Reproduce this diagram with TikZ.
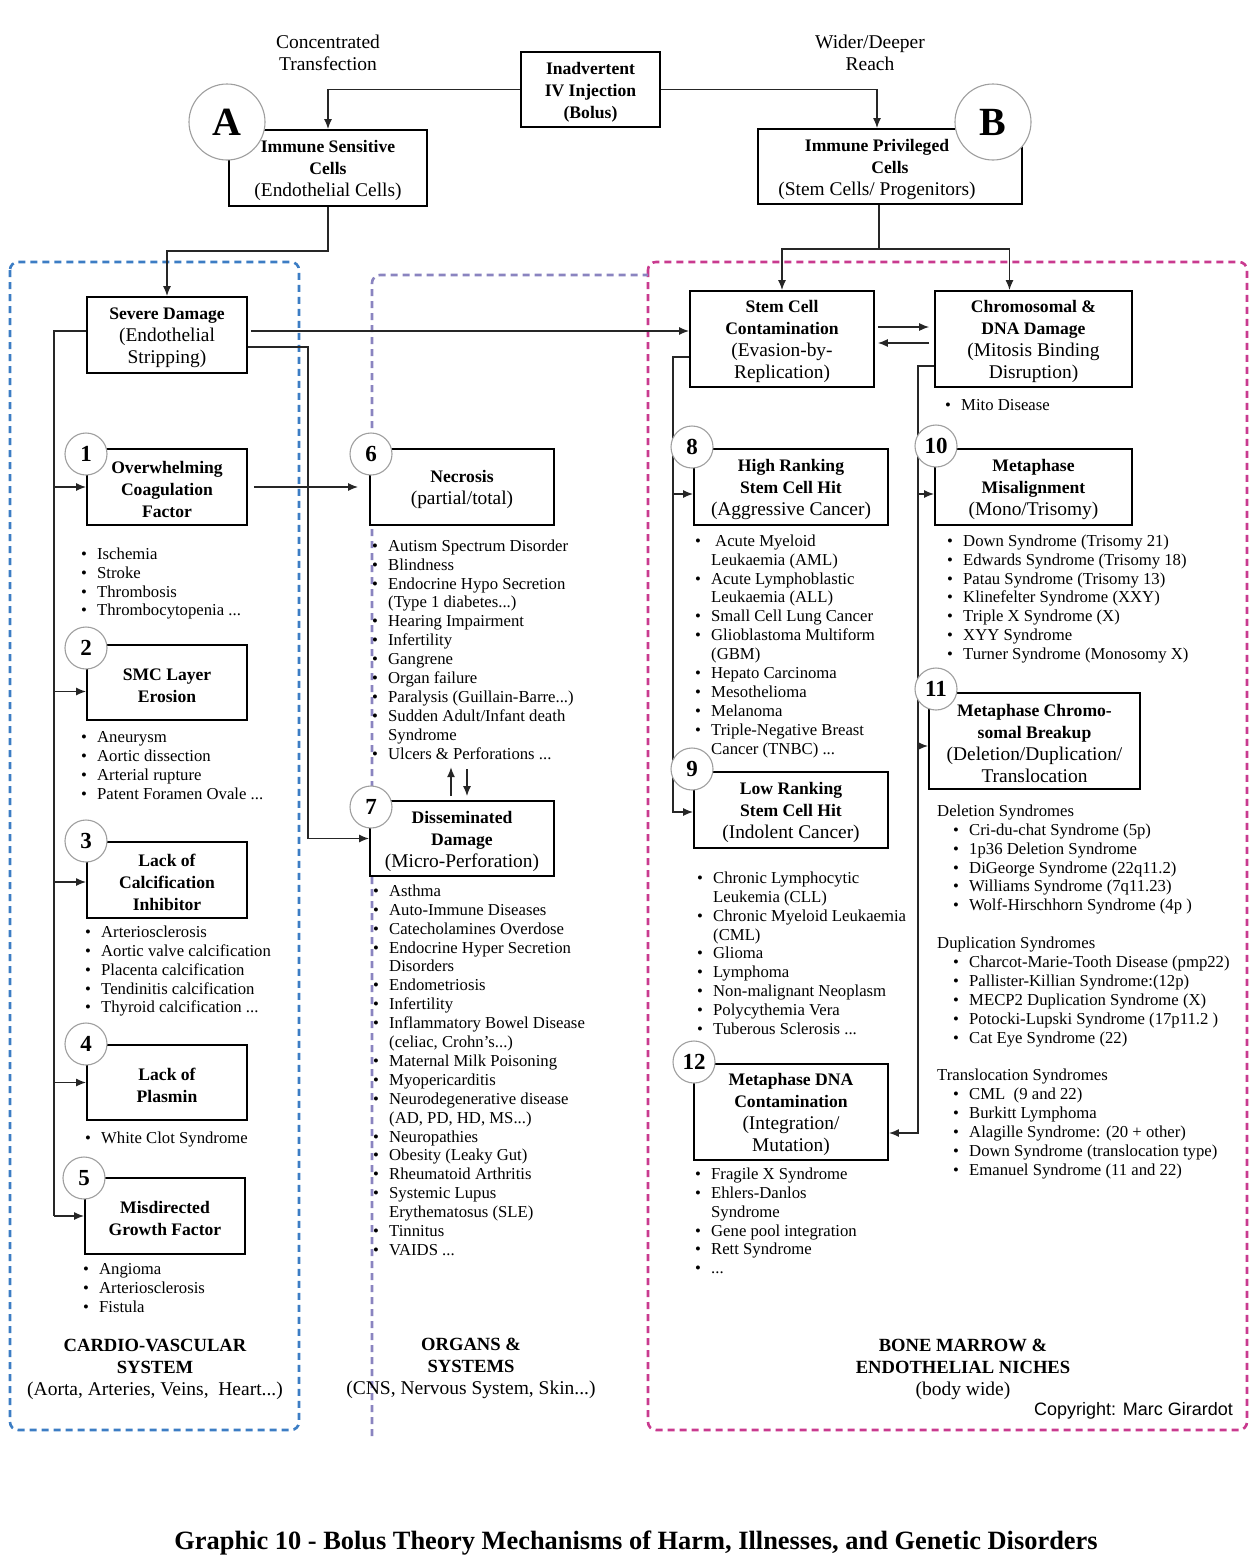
\documentclass[tikz,border=0pt]{standalone}
\usepackage{fontspec}
\setmainfont{Liberation Serif}
\newfontfamily\cpyfont{Liberation Sans}
\usetikzlibrary{arrows.meta}
\definecolor{cvblue}{HTML}{3C7DC4}
\definecolor{orgpurple}{HTML}{8A84C0}
\definecolor{bmpink}{HTML}{C93A8F}
\newcommand{\bl}{\makebox[16pt][l]{\textbullet}}
\newcommand{\hang}{\hspace*{16pt}}
\newcommand{\hd}[2][17.6]{{\fontsize{#1}{22}\selectfont\bfseries\rule{0pt}{17.5pt}#2}}

\begin{document}
\begin{tikzpicture}[x=1pt, y=-1pt]
\tikzstyle{box} = [draw, fill=white, line width=1.8pt, align=center, inner sep=0pt, font=\fontsize{19.4}{22}\selectfont]
\tikzstyle{num} = [circle, draw=gray!75, fill=white, line width=1.1pt, minimum size=42pt, inner sep=0pt, font=\fontsize{23}{23}\selectfont\bfseries]
\tikzstyle{big} = [num, minimum size=76pt, font=\fontsize{40}{40}\selectfont\bfseries]
\tikzstyle{lst} = [anchor=north west, inner sep=0pt, yshift=-1.5pt, align=left, font=\fontsize{16.7}{18.9}\selectfont]
\tikzstyle{lbl} = [align=center, inner sep=0pt, font=\fontsize{19.5}{22}\selectfont]
\tikzstyle{conn} = [line width=1.5pt, black!85, -{Latex[length=10pt,width=8pt]}]
\tikzstyle{wire} = [line width=1.5pt, black!85]
\tikzstyle{area} = [line width=2.6pt, dash pattern=on 7pt off 5pt, rounded corners=8pt]

\useasboundingbox (0,0) rectangle (1258,1558);

% system frames
\draw[area, cvblue] (10,262) rectangle (299,1430);
\draw[area, bmpink] (648,262) rectangle (1247,1430);
\draw[area, orgpurple] (372,1436) -- (372,275) -- (648,275);

% top
\node[lbl] (conc) at (328,53) {Concentrated\\Transfection};
\node[lbl] (wide) at (870,53) {Wider/Deeper\\Reach};
\node[box, minimum width=139pt, minimum height=75pt] (inj) at (590.5,89.5) {\hd{Inadvertent}\\\hd{IV Injection}\\\hd{(Bolus)}};
\node[box, minimum width=198pt, minimum height=76pt] (isc) at (328,168) {\hd{Immune Sensitive}\\\hd{Cells}\\(Endothelial Cells)};
\node[box, minimum width=264pt, minimum height=75pt] (ipc) at (890,166.5) {\hd{Immune Privileged}\hspace*{26pt}\\\hd{Cells}\hspace*{26pt}\\(Stem Cells/ Progenitors)\hspace*{26pt}};

% cardio-vascular column
\node[box, minimum width=160pt, minimum height=76pt] (sev) at (167,335) {\hd{Severe Damage}\\(Endothelial\\Stripping)};
\node[box, minimum width=160pt, minimum height=76pt] (m1) at (167,487) {\hd{Overwhelming}\\\hd{Coagulation}\\\hd{Factor}};
\node[lst] (l1) at (81,546) {\bl Ischemia\\\bl Stroke\\\bl Thrombosis\\\bl Thrombocytopenia ...};
\node[box, minimum width=160pt, minimum height=75pt] (m2) at (167,682.5) {\hd{SMC Layer}\\\hd{Erosion}};
\node[lst] (l2) at (81,730) {\bl Aneurysm\\\bl Aortic dissection\\\bl Arterial rupture\\\bl Patent Foramen Ovale ...};
\node[box, minimum width=160pt, minimum height=76pt] (m3) at (167,880) {\hd{Lack of}\\\hd{Calcification}\\\hd{Inhibitor}};
\node[lst] (l3) at (85,924) {\bl Arteriosclerosis\\\bl Aortic valve calcification\\\bl Placenta calcification\\\bl Tendinitis calcification\\\bl Thyroid calcification ...};
\node[box, minimum width=160pt, minimum height=75pt] (m4) at (167,1082.5) {\hd{Lack of}\\\hd{Plasmin}};
\node[lst] (l4) at (85,1130) {\bl White Clot Syndrome};
\node[box, minimum width=160pt, minimum height=76pt] (m5) at (165,1216) {\hd{Misdirected}\\\hd{Growth Factor}};
\node[lst] (l5) at (83,1262) {\bl Angioma\\\bl Arteriosclerosis\\\bl Fistula};
\node[lbl] (cvs) at (155,1367) {\hd[18.6]{CARDIO-VASCULAR}\\\hd[18.6]{SYSTEM}\\(Aorta, Arteries, Veins,\ \ Heart...)};

% organs column
\node[box, minimum width=184pt, minimum height=76pt] (m6) at (462,487) {\hd{Necrosis}\\(partial/total)};
\node[lst] (l6) at (372,538) {\bl Autism Spectrum Disorder\\\bl Blindness\\\bl Endocrine Hypo Secretion\\\hang(Type 1 diabetes...)\\\bl Hearing Impairment\\\bl Infertility\\\bl Gangrene\\\bl Organ failure\\\bl Paralysis (Guillain-Barre...)\\\bl Sudden Adult/Infant death\\\hang Syndrome\\\bl Ulcers \& Perforations ...};
\node[box, minimum width=184pt, minimum height=75pt] (m7) at (462,838.5) {\hd{Disseminated}\\\hd{Damage}\\(Micro-Perforation)};
\node[lst] (l7) at (373,883) {\bl Asthma\\\bl Auto-Immune Diseases\\\bl Catecholamines Overdose\\\bl Endocrine Hyper Secretion\\\hang Disorders\\\bl Endometriosis\\\bl Infertility\\\bl Inflammatory Bowel Disease\\\hang(celiac, Crohn's...)\\\bl Maternal Milk Poisoning\\\bl Myopericarditis\\\bl Neurodegenerative disease\\\hang(AD, PD, HD, MS...)\\\bl Neuropathies\\\bl Obesity (Leaky Gut)\\\bl Rheumatoid Arthritis\\\bl Systemic Lupus\\\hang Erythematosus (SLE)\\\bl Tinnitus\\\bl VAIDS ...};
\node[lbl] (org) at (471,1366) {\hd[18.6]{ORGANS \&}\\\hd[18.6]{SYSTEMS}\\(CNS, Nervous System, Skin...)};

% bone marrow column
\node[box, minimum width=184pt, minimum height=96pt] (stem) at (782,339) {\hd{Stem Cell}\\\hd{Contamination}\\(Evasion-by-\\Replication)};
\node[box, minimum width=197pt, minimum height=96pt] (chr) at (1033.5,339) {\hd{Chromosomal \&}\\\hd{DNA Damage}\\(Mitosis Binding\\Disruption)};
\node[lst] (mito) at (945,398) {\bl Mito Disease};
\node[box, minimum width=194pt, minimum height=76pt] (m8) at (791,487) {\hd{High Ranking}\\\hd{Stem Cell Hit}\\(Aggressive Cancer)};
\node[lst] (l8) at (695,533) {\bl\hspace{4pt}Acute Myeloid\\\hang Leukaemia (AML)\\\bl Acute Lymphoblastic\\\hang Leukaemia (ALL)\\\bl Small Cell Lung Cancer\\\bl Glioblastoma Multiform\\\hang(GBM)\\\bl Hepato Carcinoma\\\bl Mesothelioma\\\bl Melanoma\\\bl Triple-Negative Breast\\\hang Cancer (TNBC) ...};
\node[box, minimum width=194pt, minimum height=76pt] (m9) at (791,810) {\hd{Low Ranking}\\\hd{Stem Cell Hit}\\(Indolent Cancer)};
\node[lst] (l9) at (697,870) {\bl Chronic Lymphocytic\\\hang Leukemia (CLL)\\\bl Chronic Myeloid Leukaemia\\\hang(CML)\\\bl Glioma\\\bl Lymphoma\\\bl Non-malignant Neoplasm\\\bl Polycythemia Vera\\\bl Tuberous Sclerosis ...};
\node[box, minimum width=194pt, minimum height=96pt] (m12) at (791,1112) {\hd{Metaphase DNA}\\\hd{Contamination}\\(Integration/\\Mutation)};
\node[lst] (l12) at (695,1166) {\bl Fragile X Syndrome\\\bl Ehlers-Danlos\\\hang Syndrome\\\bl Gene pool integration\\\bl Rett Syndrome\\\bl ...};
\node[box, minimum width=197pt, minimum height=76pt] (m10) at (1033.5,487) {\hd{Metaphase}\\\hd{Misalignment}\\(Mono/Trisomy)};
\node[lst] (l10) at (947,533) {\bl Down Syndrome (Trisomy 21)\\\bl Edwards Syndrome (Trisomy 18)\\\bl Patau Syndrome (Trisomy 13)\\\bl Klinefelter Syndrome (XXY)\\\bl Triple X Syndrome (X)\\\bl XYY Syndrome\\\bl Turner Syndrome (Monosomy X)};
\node[box, minimum width=211pt, minimum height=96pt] (m11) at (1034.5,741) {\hd{Metaphase Chromo-}\\\hd{somal Breakup}\\(Deletion/Duplication/\\Translocation};
\node[lst] (l11) at (937,803) {Deletion Syndromes\\
\hang\bl Cri-du-chat Syndrome (5p)\\\hang\bl 1p36 Deletion Syndrome\\\hang\bl DiGeorge Syndrome (22q11.2)\\\hang\bl Williams Syndrome (7q11.23)\\\hang\bl Wolf-Hirschhorn Syndrome (4p )\\[18.9pt]
Duplication Syndromes\\
\hang\bl Charcot-Marie-Tooth Disease (pmp22)\\\hang\bl Pallister-Killian Syndrome:(12p)\\\hang\bl MECP2 Duplication Syndrome (X)\\\hang\bl Potocki-Lupski Syndrome (17p11.2 )\\\hang\bl Cat Eye Syndrome (22)\\[18.9pt]
Translocation Syndromes\\
\hang\bl CML\ \ (9 and 22)\\\hang\bl Burkitt Lymphoma\\\hang\bl Alagille Syndrome: (20 + other)\\\hang\bl Down Syndrome (translocation type)\\\hang\bl Emanuel Syndrome (11 and 22)};
\node[lbl] (bmn) at (963,1367) {\hd[18.6]{BONE MARROW \&}\\\hd[18.6]{ENDOTHELIAL NICHES}\\(body wide)};
\node[anchor=east, inner sep=0pt, font=\cpyfont\fontsize{18}{18}\selectfont] (cpy) at (1233,1411) {Copyright: Marc Girardot};

\node[inner sep=0pt, font=\fontsize{26.4}{30}\selectfont\bfseries] (ttl) at (636,1543) {Graphic 10 - Bolus Theory Mechanisms of Harm, Illnesses, and Genetic Disorders};

% connectors
\draw[conn] (inj.west) -| (isc.north);
\draw[conn] (inj.east) -| ([xshift=-13pt]ipc.north);
\draw[conn] (isc.south) -- ++(0,44) -| (sev.north);
\draw[conn] ([xshift=-11pt]ipc.south) -- ++(0,44) -| (stem.north);
\draw[conn] ([xshift=-11pt]ipc.south) -- ++(0,44) -| ([xshift=-24pt]chr.north);

\coordinate (cvbus) at (54,331);
\draw[wire] ([yshift=4pt]sev.west) -- (cvbus) -- (cvbus |- m5.west);
\foreach \b/\dy in {m1/0, m2/-9, m3/-2, m4/0, m5/0}
  \draw[conn] ([yshift=\dy pt]cvbus |- \b.west) -- ([yshift=\dy pt]\b.west);

\draw[conn, shorten <=3pt] ([yshift=4pt]sev.east) -- ([yshift=4pt]stem.west |- sev.east);
\coordinate (orgbus) at (308,347);
\draw[conn] ([yshift=-12pt]sev.east) -- (orgbus) |- (m7.west);
\draw[conn, shorten <=6pt, shorten >=11pt] (m1.east) -- (m6.west);
\draw[conn] ([xshift=-11pt,yshift=4pt]m7.north) -- ++(0,-29);
\draw[conn] ([xshift=5pt,yshift=31pt]m7.north) -- ([xshift=5pt,yshift=4pt]m7.north);

\draw[conn, line width=1.2pt] ([xshift=3pt,yshift=12pt]stem.east) -- ([xshift=-5pt,yshift=12pt]chr.west);
\draw[conn, line width=1.2pt] ([xshift=-5pt,yshift=-4pt]chr.west) -- ([xshift=3pt,yshift=-4pt]stem.east);

\coordinate (scbus) at (673,357);
\draw[conn] ([yshift=-18pt]stem.west) -- (scbus) |- ([yshift=-2pt]m9.west);
\draw[conn] ([yshift=-7pt]scbus |- m8.west) -- ([yshift=-7pt]m8.west);

\coordinate (chbus) at (918,366);
\draw[conn] ([yshift=-27pt]chr.west) -- (chbus) |- ([yshift=-21pt]m12.east);
\draw[conn] ([yshift=-7pt]chbus |- m10.west) -- ([yshift=-7pt]m10.west);
\draw[conn] ([yshift=-5pt]chbus |- m11.west) -- ([yshift=-5pt]m11.west);

% numbered markers
\node[big] (ca) at (227,122) {A};
\node[big] (cb) at (993,122) {B};
\node[num] (n1) at (86,454) {1};
\node[num] (n2) at (86,648) {2};
\node[num] (n3) at (86,841) {3};
\node[num] (n4) at (86,1044) {4};
\node[num] (n5) at (84,1178) {5};
\node[num] (n6) at (371,454) {6};
\node[num] (n7) at (371,807) {7};
\node[num] (n8) at (692,447) {8};
\node[num] (n9) at (692,769) {9};
\node[num] (n10) at (936,446) {10};
\node[num] (n11) at (936,689) {11};
\node[num] (n12) at (694,1062) {12};
\end{tikzpicture}
\end{document}
